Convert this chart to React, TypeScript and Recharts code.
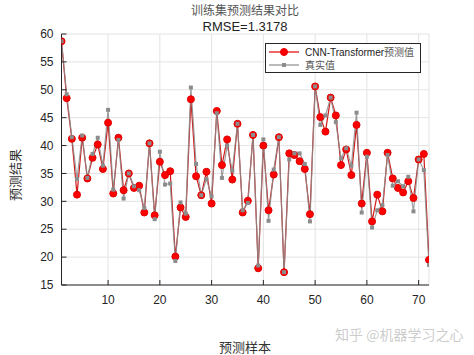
import {
  CartesianGrid,
  Legend,
  Line,
  LineChart,
  XAxis,
  YAxis,
} from "recharts";

const predicted = [
  58.7, 48.5, 41.2, 31.2, 41.4, 34.1, 37.8, 40.2, 35.8, 44.1,
  31.4, 41.4, 32.0, 35.0, 32.4, 32.8, 28.0, 40.4, 27.5, 37.1,
  34.7, 35.4, 20.1, 28.9, 27.2, 48.3, 34.5, 31.1, 35.3, 29.6,
  46.2, 36.5, 41.1, 33.9, 43.9, 28.0, 30.1, 41.9, 18.0, 40.0,
  28.4, 34.8, 41.5, 17.3, 38.6, 38.3, 37.2, 35.8, 27.7, 50.6,
  45.1, 42.5, 48.6, 45.4, 36.5, 39.3, 34.7, 43.7, 29.6, 38.7,
  26.4, 31.2, 28.2, 38.7, 34.1, 32.4, 31.6, 33.6, 30.6, 37.5,
  38.5, 19.5,
];

const actual = [
  58.7, 49.2, 41.5, 34.0, 41.8, 34.2, 38.5, 41.4, 36.4, 46.4,
  32.1, 41.0, 30.5, 35.0, 32.7, 32.0, 28.8, 40.4, 26.8, 38.9,
  33.0, 33.2, 19.3, 29.8, 27.8, 50.4, 36.7, 31.1, 34.0, 30.9,
  45.8, 34.2, 40.0, 35.5, 43.9, 28.4, 29.7, 41.9, 18.5, 41.1,
  26.5, 35.7, 41.5, 17.3, 37.5, 38.6, 38.6, 36.7, 26.4, 50.6,
  43.7, 45.4, 48.6, 44.2, 37.7, 39.5, 36.4, 45.9, 28.0, 38.0,
  25.3, 28.4, 29.3, 38.3, 32.8, 33.6, 32.7, 34.4, 28.2, 37.5,
  35.6, 18.6,
];

const xTicks = [10, 20, 30, 40, 50, 60, 70];
const yTicks = [15, 20, 25, 30, 35, 40, 45, 50, 55, 60];

const data = predicted.map((p, i) => ({
  sample: i + 1,
  predicted: p,
  actual: actual[i],
}));

const SANS = "'Liberation Sans', Arial, sans-serif";
const CJK = "'Noto Sans CJK SC', sans-serif";
const AXIS = "#262626";
const RED = "#e00000";
const GRAY = "#8c8c8c";

function Square(props: any) {
  const { cx, cy, index } = props;
  if (cx == null || cy == null) return <g key={index} />;
  return <rect key={index} x={cx - 2} y={cy - 2} width={4} height={4} fill={GRAY} />;
}

function LegendBox() {
  return (
    <svg width={156} height={30} style={{ display: "block" }}>
      <rect x={0.5} y={0.5} width={155} height={29} fill="#fff" stroke={AXIS} />
      <line x1={4} x2={34} y1={9} y2={9} stroke={RED} strokeWidth={1.2} />
      <circle cx={19} cy={9} r={3.5} fill="#ff0000" stroke={RED} />
      <text x={40} y={13} fontSize={10} fill="#222" fontFamily={SANS}>
        CNN-Transformer
        <tspan fontFamily={CJK} fill="#555">预测值</tspan>
      </text>
      <line x1={4} x2={34} y1={22} y2={22} stroke={GRAY} strokeWidth={1.2} />
      <rect x={17} y={20} width={4} height={4} fill={GRAY} />
      <text x={40} y={26} fontSize={10} fill="#555" fontFamily={CJK}>
        真实值
      </text>
    </svg>
  );
}

export default function App() {
  return (
    <div style={{ position: "absolute", left: 0, top: 0, width: 474, height: 355, background: "#fff" }}>
      <LineChart
        width={474}
        height={355}
        data={data}
        margin={{ top: 34, right: 45, bottom: 20, left: 21.5 }}
      >
        <CartesianGrid stroke="#e3e3e3" strokeWidth={1} />
        <XAxis
          dataKey="sample"
          type="number"
          domain={[1, 72]}
          ticks={xTicks}
          height={20}
          stroke={AXIS}
          tickSize={-5}
          tickMargin={15}
          tick={{ fill: AXIS, fontSize: 12, fontFamily: SANS }}
          allowDataOverflow
        />
        <XAxis
          xAxisId="top"
          orientation="top"
          dataKey="sample"
          type="number"
          domain={[1, 72]}
          ticks={xTicks}
          height={0}
          stroke={AXIS}
          tickSize={-5}
          tick={false}
        />
        <YAxis
          type="number"
          domain={[15, 60]}
          ticks={yTicks}
          width={40}
          stroke={AXIS}
          tickSize={-5}
          tickMargin={13}
          tick={{ fill: AXIS, fontSize: 12, fontFamily: SANS }}
        />
        <YAxis
          yAxisId="right"
          orientation="right"
          type="number"
          domain={[15, 60]}
          ticks={yTicks}
          width={0}
          stroke={AXIS}
          tickSize={-5}
          tick={false}
        />
        <Legend
          content={() => <LegendBox />}
          wrapperStyle={{ position: "absolute", left: 265, top: 43, width: 156, height: 30, bottom: "auto" }}
        />
        <Line
          dataKey="predicted"
          stroke="#d01818"
          strokeWidth={1.2}
          dot={{ r: 3.5, fill: "#ff0000", stroke: RED, strokeWidth: 1 }}
          isAnimationActive={false}
        />
        <Line
          dataKey="actual"
          stroke={GRAY}
          strokeOpacity={0.85}
          strokeWidth={1.2}
          dot={<Square />}
          isAnimationActive={false}
        />
      </LineChart>
      <div style={{ position: "absolute", left: 0, width: 490, top: 3, textAlign: "center", fontFamily: CJK, fontSize: 12, color: "#555", lineHeight: "13px" }}>
        训练集预测结果对比
      </div>
      <div style={{ position: "absolute", left: 0, width: 490, top: 19.5, textAlign: "center", fontFamily: SANS, fontSize: 13, color: "#222", lineHeight: "14px" }}>
        RMSE=1.3178
      </div>
      <div style={{ position: "absolute", left: 0, width: 490, top: 339, textAlign: "center", fontFamily: CJK, fontSize: 13, color: "#333", lineHeight: "15px" }}>
        预测样本
      </div>
      <div style={{ position: "absolute", left: 14, top: 175, transform: "translate(-50%, -50%) rotate(-90deg)", fontFamily: CJK, fontSize: 13, color: "#333", whiteSpace: "nowrap" }}>
        预测结果
      </div>
      <div style={{ position: "absolute", left: 335, top: 324, fontFamily: CJK, fontSize: 14, color: "rgba(160,160,160,0.55)", whiteSpace: "nowrap" }}>
        知乎 @机器学习之心
      </div>
    </div>
  );
}
